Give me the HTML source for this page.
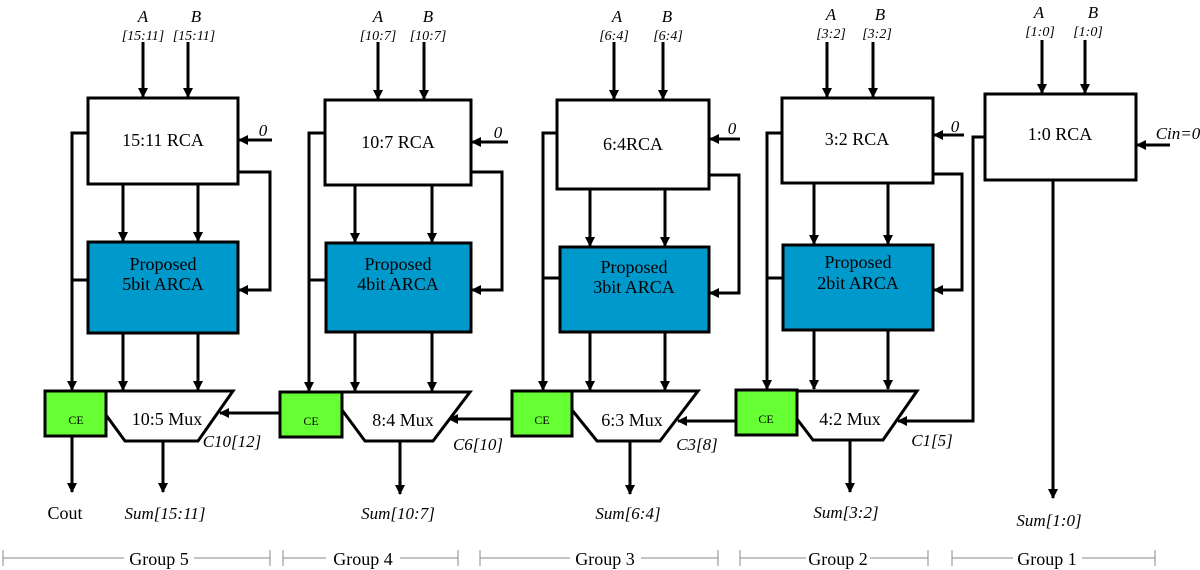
<!DOCTYPE html>
<html><head><meta charset="utf-8"><style>
body{margin:0;background:#fff}
svg{display:block}
text{font-family:"Liberation Serif",serif;fill:#000}
.i{font-style:italic}
</style></head><body>
<svg width="1200" height="570" viewBox="0 0 1200 570" xmlns="http://www.w3.org/2000/svg">
<defs><marker id="a" markerWidth="10" markerHeight="10" refX="9" refY="5" orient="auto" markerUnits="userSpaceOnUse"><path d="M0,0 L10,5 L0,10 z" fill="#000"/></marker></defs>
<g stroke="#000" stroke-width="3" fill="none">
<rect x="88" y="98" width="150" height="86" fill="#fff"/>
<rect x="88" y="242" width="150" height="91" fill="#0099cc"/>
<line x1="143" y1="42" x2="143" y2="97" marker-end="url(#a)"/>
<line x1="188" y1="42" x2="188" y2="97" marker-end="url(#a)"/>
<line x1="272" y1="140" x2="239" y2="140" marker-end="url(#a)"/>
<polyline points="239,172 270,172 270,290 239,290" marker-end="url(#a)"/>
<polyline points="88,133 72,133 72,390" marker-end="url(#a)"/>
<line x1="72" y1="280" x2="88" y2="280"/>
<line x1="123" y1="184" x2="123" y2="241" marker-end="url(#a)"/>
<line x1="198" y1="184" x2="198" y2="241" marker-end="url(#a)"/>
<line x1="123" y1="333" x2="123" y2="390" marker-end="url(#a)"/>
<line x1="198" y1="333" x2="198" y2="390" marker-end="url(#a)"/>
<rect x="45" y="391" width="61" height="45" fill="#66ff33"/>
<polygon points="106,391 233,391 198,441 125,441 106,415" fill="#fff"/>
<line x1="72" y1="436" x2="72" y2="492" marker-end="url(#a)"/>
<line x1="163" y1="441" x2="163" y2="492" marker-end="url(#a)"/>
<line x1="279" y1="413" x2="220" y2="413" marker-end="url(#a)"/>
<rect x="325" y="100" width="146" height="85" fill="#fff"/>
<rect x="326" y="243" width="145" height="89" fill="#0099cc"/>
<line x1="378" y1="42" x2="378" y2="99" marker-end="url(#a)"/>
<line x1="424" y1="42" x2="424" y2="99" marker-end="url(#a)"/>
<line x1="508" y1="142" x2="472" y2="142" marker-end="url(#a)"/>
<polyline points="471,172 502,172 502,290 472,290" marker-end="url(#a)"/>
<polyline points="325,133 309,133 309,391" marker-end="url(#a)"/>
<line x1="309" y1="280" x2="325" y2="280"/>
<line x1="355" y1="185" x2="355" y2="242" marker-end="url(#a)"/>
<line x1="432" y1="185" x2="432" y2="242" marker-end="url(#a)"/>
<line x1="355" y1="332" x2="355" y2="391" marker-end="url(#a)"/>
<line x1="432" y1="332" x2="432" y2="391" marker-end="url(#a)"/>
<rect x="280" y="392" width="62" height="45" fill="#66ff33"/>
<polygon points="342,392 470,392 433,441 365,441 342,410" fill="#fff"/>
<line x1="400" y1="441" x2="400" y2="494" marker-end="url(#a)"/>
<line x1="512" y1="419" x2="449" y2="419" marker-end="url(#a)"/>
<rect x="557" y="100" width="152" height="89" fill="#fff"/>
<rect x="560" y="247" width="149" height="85" fill="#0099cc"/>
<line x1="614" y1="42" x2="614" y2="99" marker-end="url(#a)"/>
<line x1="663" y1="42" x2="663" y2="99" marker-end="url(#a)"/>
<line x1="740" y1="139" x2="710" y2="139" marker-end="url(#a)"/>
<polyline points="710,175 739,175 739,293 710,293" marker-end="url(#a)"/>
<polyline points="557,133 543,133 543,390" marker-end="url(#a)"/>
<line x1="543" y1="278" x2="560" y2="278"/>
<line x1="590" y1="189" x2="590" y2="246" marker-end="url(#a)"/>
<line x1="665" y1="189" x2="665" y2="246" marker-end="url(#a)"/>
<line x1="590" y1="332" x2="590" y2="390" marker-end="url(#a)"/>
<line x1="665" y1="332" x2="665" y2="390" marker-end="url(#a)"/>
<rect x="512" y="391" width="60" height="45" fill="#66ff33"/>
<polygon points="572,391 698,391 660,441 597,441 572,410" fill="#fff"/>
<line x1="630" y1="441" x2="630" y2="494" marker-end="url(#a)"/>
<line x1="737" y1="421" x2="678" y2="421" marker-end="url(#a)"/>
<rect x="782" y="98" width="151" height="85" fill="#fff"/>
<rect x="783" y="245" width="150" height="85" fill="#0099cc"/>
<line x1="827" y1="42" x2="827" y2="97" marker-end="url(#a)"/>
<line x1="873" y1="42" x2="873" y2="97" marker-end="url(#a)"/>
<line x1="964" y1="135" x2="934" y2="135" marker-end="url(#a)"/>
<polyline points="934,174 962,174 962,290 934,290" marker-end="url(#a)"/>
<polyline points="782,133 767,133 767,389" marker-end="url(#a)"/>
<line x1="767" y1="278" x2="783" y2="278"/>
<line x1="814" y1="183" x2="814" y2="244" marker-end="url(#a)"/>
<line x1="888" y1="183" x2="888" y2="244" marker-end="url(#a)"/>
<line x1="814" y1="330" x2="814" y2="389" marker-end="url(#a)"/>
<line x1="888" y1="330" x2="888" y2="389" marker-end="url(#a)"/>
<rect x="736" y="390" width="61" height="45" fill="#66ff33"/>
<polygon points="797,391 917,391 883,440 813,440 797,419" fill="#fff"/>
<line x1="850" y1="440" x2="850" y2="492" marker-end="url(#a)"/>
<rect x="985" y="94" width="151" height="86" fill="#fff"/>
<line x1="1042" y1="40" x2="1042" y2="93" marker-end="url(#a)"/>
<line x1="1085" y1="40" x2="1085" y2="93" marker-end="url(#a)"/>
<line x1="1170" y1="145" x2="1137" y2="145" marker-end="url(#a)"/>
<polyline points="985,137 973,137 973,421 898,421" marker-end="url(#a)"/>
<line x1="1053" y1="180" x2="1053" y2="498" marker-end="url(#a)"/>
</g>
<g stroke="#888" stroke-width="1">
<line x1="3" y1="558" x2="124" y2="558"/><line x1="194" y1="558" x2="270" y2="558"/>
<line x1="3" y1="550" x2="3" y2="566"/><line x1="270" y1="550" x2="270" y2="566"/>
<line x1="283" y1="558" x2="326" y2="558"/><line x1="400" y1="558" x2="458" y2="558"/>
<line x1="283" y1="550" x2="283" y2="566"/><line x1="458" y1="550" x2="458" y2="566"/>
<line x1="480" y1="558" x2="570" y2="558"/><line x1="641" y1="558" x2="718" y2="558"/>
<line x1="480" y1="550" x2="480" y2="566"/><line x1="718" y1="550" x2="718" y2="566"/>
<line x1="740" y1="558" x2="806" y2="558"/><line x1="870" y1="558" x2="928" y2="558"/>
<line x1="740" y1="550" x2="740" y2="566"/><line x1="928" y1="550" x2="928" y2="566"/>
<line x1="952" y1="558" x2="1013" y2="558"/><line x1="1082" y1="558" x2="1155" y2="558"/>
<line x1="952" y1="550" x2="952" y2="566"/><line x1="1155" y1="550" x2="1155" y2="566"/>
</g>
<g font-size="18" text-anchor="middle">
<text x="163" y="146">15:11 RCA</text>
<text x="163" y="270">Proposed</text><text x="163" y="290">5bit ARCA</text>
<text x="398" y="148">10:7 RCA</text>
<text x="398" y="270">Proposed</text><text x="398" y="290">4bit ARCA</text>
<text x="633" y="150">6:4RCA</text>
<text x="634" y="273">Proposed</text><text x="634" y="293">3bit ARCA</text>
<text x="857" y="145">3:2 RCA</text>
<text x="858" y="268">Proposed</text><text x="858" y="289">2bit ARCA</text>
<text x="1060" y="140">1:0 RCA</text>
<text x="167" y="425">10:5 Mux</text>
<text x="403" y="426">8:4 Mux</text>
<text x="632" y="426">6:3 Mux</text>
<text x="850" y="425">4:2 Mux</text>
<text x="65" y="519">Cout</text>
<text x="159" y="565">Group 5</text>
<text x="363" y="565">Group 4</text>
<text x="605" y="565">Group 3</text>
<text x="838" y="565">Group 2</text>
<text x="1047" y="565">Group 1</text>
</g>
<g font-size="12" text-anchor="middle">
<text x="76" y="424">CE</text><text x="311" y="425">CE</text><text x="542" y="424">CE</text><text x="766" y="423">CE</text>
</g>
<g class="i" font-size="17" text-anchor="middle">
<text x="143" y="22">A</text><text x="196" y="22">B</text>
<text x="378" y="22">A</text><text x="428" y="22">B</text>
<text x="617" y="22">A</text><text x="667" y="22">B</text>
<text x="831" y="20">A</text><text x="880" y="20">B</text>
<text x="1039" y="18">A</text><text x="1093" y="18">B</text>
<text x="263" y="136">0</text><text x="498" y="138">0</text><text x="732" y="134">0</text><text x="955" y="132">0</text>
<text x="1178" y="139">Cin=0</text>
<text x="232" y="447">C10[12]</text>
<text x="478" y="450">C6[10]</text>
<text x="697" y="450">C3[8]</text>
<text x="932" y="446">C1[5]</text>
<text x="165" y="519">Sum[15:11]</text>
<text x="398" y="519">Sum[10:7]</text>
<text x="628" y="519">Sum[6:4]</text>
<text x="846" y="518">Sum[3:2]</text>
<text x="1049" y="526">Sum[1:0]</text>
</g>
<g class="i" font-size="14" text-anchor="middle" fill="#333">
<text x="143" y="40">[15:11]</text><text x="194" y="40">[15:11]</text>
<text x="378" y="40">[10:7]</text><text x="428" y="40">[10:7]</text>
<text x="614" y="40">[6:4]</text><text x="668" y="40">[6:4]</text>
<text x="831" y="38">[3:2]</text><text x="877" y="38">[3:2]</text>
<text x="1040" y="36">[1:0]</text><text x="1088" y="36">[1:0]</text>
</g>
</svg>
</body></html>
